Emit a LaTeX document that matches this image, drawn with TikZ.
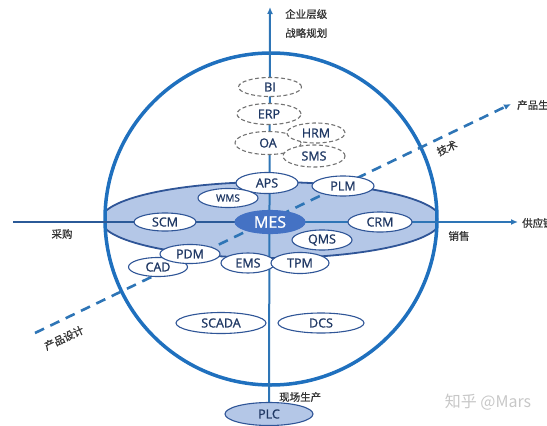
\documentclass[tikz,border=0pt]{standalone}
\usepackage{fontspec}
\setmainfont{Open Sans}[FakeBold=1.2]
\newfontfamily\cjk{Noto Sans CJK SC}[FakeBold=0.8]
\newfontfamily\cjkwm{Noto Sans CJK SC}
\usetikzlibrary{arrows.meta,shapes.geometric}
\definecolor{ring}{HTML}{1F70BE}
\definecolor{navy}{HTML}{2F5597}
\definecolor{haxis}{HTML}{2B5A98}
\definecolor{txt}{HTML}{1F3864}
\definecolor{disc}{HTML}{B4C7E7}
\definecolor{mesblue}{HTML}{4472C4}
\definecolor{vaxis}{HTML}{2E75B6}
\begin{document}
\begin{tikzpicture}[x=1pt,y=-1pt,
  sys/.style={ellipse, draw=navy, line width=1.1pt, fill=white, inner sep=0pt,
    font=\fontsize{12.5}{13}\selectfont, text=txt},
  dsys/.style={sys, draw=black!55, dash pattern=on 4pt off 2.5pt},
  lbl/.style={font=\cjk\fontsize{10.5}{11}\selectfont, text=black!80, inner sep=0pt},
  arr/.style={-{Latex[length=7pt,width=6pt]}},
]
\useasboundingbox (0,0) rectangle (547,426);
% disc
\begin{scope}
  \clip (271,219) circle[radius=166];
  \draw[fill=disc, draw=navy, line width=1.8pt] (271,220) ellipse[x radius=170, y radius=38];
\end{scope}
% big ring
\draw[ring, line width=3.5pt] (271,219) circle[radius=166];
% coordinates
\coordinate (hl) at (13,222);
\coordinate (hr) at (518,222);
\coordinate (vt) at (270,7);
\coordinate (dl) at (35,333);
\coordinate (dr) at (511,104);
% PLC
\node[sys, fill=disc, minimum width=88, minimum height=23] (plc) at (269,414) {PLC};
% axes
\draw[haxis, line width=2pt] (hl) -- (271,222);
\draw[vaxis, line width=2pt, arr] (271,222) -- (hr);
\draw[vaxis, line width=2pt, arr] (plc.north) -- (vt);
\draw[vaxis, line width=2.6pt, dash pattern=on 10pt off 7pt, arr] (dl) -- (dr);
% dashed systems
\node[dsys, minimum width=63, minimum height=19] (bi) at (270,87) {BI};
\node[dsys, minimum width=64, minimum height=21] (erp) at (269,114) {ERP};
\node[dsys, minimum width=66, minimum height=23] (oa) at (268,143) {OA};
\node[dsys, minimum width=58, minimum height=20] (hrm) at (316,133) {HRM};
\node[dsys, minimum width=62, minimum height=22] (sms) at (314,156) {SMS};
% solid systems
\node[sys, minimum width=62, minimum height=21] (aps) at (267,183) {APS};
\node[sys, minimum width=62, minimum height=20] (plm) at (343,186) {PLM};
\node[sys, minimum width=60, minimum height=19, font=\fontsize{10}{10}\selectfont] (wms) at (228,198) {WMS};
\node[sys, minimum width=62, minimum height=18] (scm) at (165,222) {SCM};
\node[sys, minimum width=64, minimum height=20] (crm) at (380,222) {CRM};
\node[sys, fill=mesblue, draw=mesblue, text=white, minimum width=70, minimum height=23,
  font=\fontsize{16}{16}\selectfont] (mes) at (270,222) {MES};
\node[sys, minimum width=60, minimum height=20] (qms) at (322,240) {QMS};
\node[sys, minimum width=59, minimum height=19] (cad) at (158,267) {CAD};
\node[sys, minimum width=60, minimum height=19] (pdm) at (190,254) {PDM};
\node[sys, minimum width=54, minimum height=20] (ems) at (248,263) {EMS};
\node[sys, minimum width=58, minimum height=21] (tpm) at (300,263) {TPM};
\node[sys, minimum width=90, minimum height=21] (scada) at (221,323) {SCADA};
\node[sys, minimum width=86, minimum height=20] (dcs) at (321,323) {DCS};
% labels
\node[lbl, anchor=west] (l1) at (285,14) {企业层级};
\node[lbl, anchor=west] (l2) at (285,33) {战略规划};
\node[lbl, anchor=west] (l3) at (279,397) {现场生产};
\node[lbl] (l4) at (62,234) {采购};
\node[lbl] (l5) at (459,236) {销售};
\node[lbl, anchor=west] (l6) at (522,223) {供应链};
\node[lbl, anchor=west] (l7) at (517,105) {产品生命周期};
\node[lbl, rotate=25] (l8) at (447,148) {技术};
\node[lbl, rotate=25] (l9) at (64,338) {产品设计};
\node[font=\cjkwm\fontsize{16}{16}\selectfont, text=black!22] (wm) at (488,402) {知乎 @Mars};
\end{tikzpicture}
\end{document}
